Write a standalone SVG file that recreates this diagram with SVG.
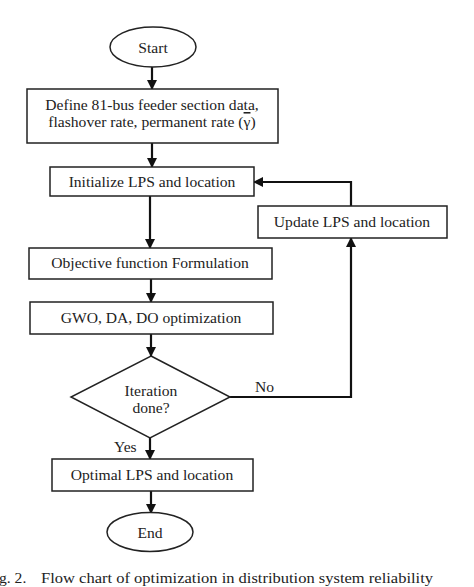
<svg xmlns="http://www.w3.org/2000/svg" width="474" height="587" viewBox="0 0 474 587">
<style>
.n{fill:#fff;stroke:#222;stroke-width:1.5}
.t{font-family:"Liberation Serif","Times New Roman",serif;font-size:15.6px;fill:#222;text-anchor:middle}
.l{font-family:"Liberation Serif","Times New Roman",serif;font-size:15.6px;fill:#222}
.c{fill:none;stroke:#111;stroke-width:2.2}
</style>
<defs>
<marker id="a" markerWidth="10" markerHeight="10" refX="9" refY="5" orient="auto" markerUnits="userSpaceOnUse">
<path d="M0,0 L10,5 L0,10 Z" fill="#111"/>
</marker>
</defs>
<rect width="474" height="587" fill="#fff"/>
<g id="connectors">
<line class="c" x1="152" y1="67" x2="152" y2="89" marker-end="url(#a)"/>
<line class="c" x1="152" y1="143" x2="152" y2="167" marker-end="url(#a)"/>
<line class="c" x1="150" y1="196" x2="150" y2="248" marker-end="url(#a)"/>
<line class="c" x1="151" y1="279" x2="151" y2="302" marker-end="url(#a)"/>
<line class="c" x1="151" y1="334" x2="151" y2="356" marker-end="url(#a)"/>
<line class="c" x1="150" y1="438" x2="150" y2="459" marker-end="url(#a)"/>
<line class="c" x1="151" y1="491" x2="151" y2="513" marker-end="url(#a)"/>
<polyline class="c" points="230,397 351,397 351,238" marker-end="url(#a)"/>
<polyline class="c" points="351,206 351,182 254,182" marker-end="url(#a)"/>
<text class="l" x="255" y="392">No</text>
<text class="l" x="114" y="452">Yes</text>
</g>
<g id="start">
<ellipse class="n" cx="153" cy="47" rx="43" ry="20"/>
<text class="t" x="153" y="53">Start</text>
</g>
<g id="define">
<rect class="n" x="27" y="89" width="251" height="54"/>
<text class="t" x="152" y="110">Define 81-bus feeder section data,</text>
<text class="t" x="152" y="127">flashover rate, permanent rate (<tspan text-decoration="overline">γ</tspan>)</text>
</g>
<g id="init">
<rect class="n" x="50" y="167" width="204" height="29"/>
<text class="t" x="152" y="187">Initialize LPS and location</text>
</g>
<g id="update">
<rect class="n" x="258" y="206" width="189" height="32"/>
<text class="t" x="352" y="227">Update LPS and location</text>
</g>
<g id="objective">
<rect class="n" x="29" y="248" width="243" height="31"/>
<text class="t" x="150" y="268">Objective function Formulation</text>
</g>
<g id="gwo">
<rect class="n" x="30" y="302" width="243" height="32"/>
<text class="t" x="151" y="323">GWO, DA, DO optimization</text>
</g>
<g id="decision">
<polygon class="n" points="151,356 230,397 150,438 71,397"/>
<text class="t" x="151" y="396">Iteration</text>
<text class="t" x="151" y="413">done?</text>
</g>
<g id="optimal">
<rect class="n" x="52" y="459" width="201" height="32"/>
<text class="t" x="152" y="480">Optimal LPS and location</text>
</g>
<g id="end">
<ellipse class="n" cx="150" cy="532" rx="43" ry="19.5"/>
<text class="t" x="150" y="538">End</text>
</g>
<g id="caption">
<text class="l" x="-1" y="583" font-size="17.5">g. 2.</text>
<text class="l" x="41" y="583" font-size="17.5" textLength="392" lengthAdjust="spacingAndGlyphs">Flow chart of optimization in distribution system reliability</text>
</g>
</svg>
